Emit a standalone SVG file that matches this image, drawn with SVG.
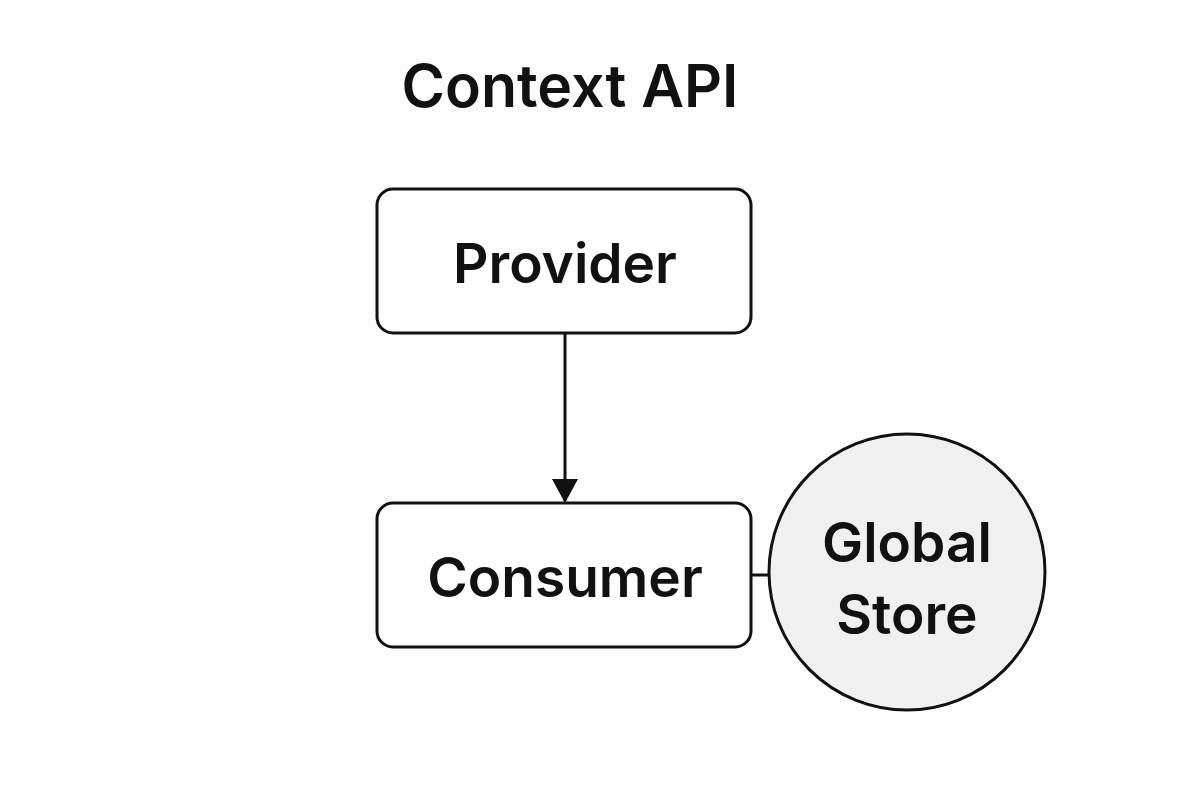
<svg xmlns="http://www.w3.org/2000/svg" width="1200" height="800" viewBox="0 0 1200 800">
<style>
text{font-family:"Inter","Liberation Sans",sans-serif;fill:#111;text-anchor:middle;font-weight:600}
.box{fill:#fff;stroke:#111;stroke-width:3}
.lbl{font-size:55px}
.conn{stroke:#111;stroke-width:3;fill:none}
</style>
<defs>
<marker id="a2" viewBox="0 0 24 26" markerWidth="24" markerHeight="26" refX="22" refY="13" orient="auto" markerUnits="userSpaceOnUse"><path d="M0,0 L24,13 L0,26 Z" fill="#111"/></marker></defs>
<rect width="1200" height="800" fill="#fdfdfd"/>
<text x="570" y="107" font-size="59">Context API</text>
<g id="connectors">
<line class="conn" x1="565" y1="334" x2="565" y2="501" marker-end="url(#a2)"/>
<line class="conn" x1="751" y1="575" x2="770" y2="575"/>
</g>
<g id="provider"><rect class="box" x="377" y="189" width="374" height="144" rx="16"/><text class="lbl" x="565" y="283">Provider</text></g>
<g id="consumer"><rect class="box" x="377" y="503" width="374" height="144" rx="16"/><text class="lbl" x="565" y="597">Consumer</text></g>
<g id="store"><circle cx="907" cy="572" r="138" fill="#f0f0f0" stroke="#111" stroke-width="3"/><text class="lbl" x="907" y="562">Global</text><text class="lbl" x="907" y="634">Store</text></g>
</svg>
